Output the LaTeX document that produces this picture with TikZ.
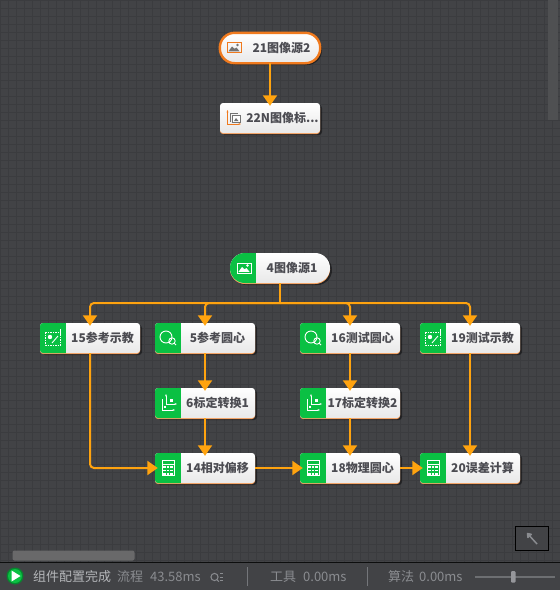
\documentclass[tikz,border=0pt]{standalone}
\usepackage{fontspec}
\setmainfont{Noto Sans CJK SC}
\usetikzlibrary{arrows.meta,calc,shapes.geometric}
\definecolor{bgc}{HTML}{424346}
\definecolor{gridc}{HTML}{3B3C3F}
\definecolor{barc}{HTML}{424346}
\definecolor{flowc}{HTML}{FFA30F}
\definecolor{greenc}{HTML}{0AC043}
\definecolor{iconor}{HTML}{F07A1E}
\definecolor{txtc}{HTML}{4C4C52}
\definecolor{stc}{HTML}{8A8C90}
\definecolor{stb}{HTML}{B4B6B9}
\tikzset{
  x=1pt,y=-1pt,
  wfbase/.style={minimum width=100pt,minimum height=30pt,inner sep=0pt,top color=white,bottom color=black!9,
     text=txtc,font=\fontsize{12}{12}\selectfont\bfseries},
  wfrect/.style={wfbase,rectangle,rounded corners=3pt},
  wfpill/.style={wfbase,rectangle,rounded corners=14.9pt},
  greenpart/.style={path picture={\fill[greenc,sharp corners] ([xshift=-1pt,yshift=1pt]path picture bounding box.north west) rectangle ++(27,32);}},
  flow/.style={draw=flowc,line width=2pt,rounded corners=4pt,shorten >=-3pt,
     -{Triangle[width=14pt,length=10.5pt]}},
  trunk/.style={draw=flowc,line width=2pt},
  ico/.style={white,line width=.9pt},
  icoo/.style={iconor,line width=.9pt},
  st/.style={text=stc,font=\fontsize{13}{13}\selectfont,inner sep=0pt,anchor=west},
}
% #1 name, #2 centre x, #3 centre y, #4 text, #5 style, #6 corner radius
\newcommand{\wfnode}[6]{%
  \fill[black,opacity=.45,rounded corners=#6] (#2-48,#3-13) rectangle (#2+52,#3+17);
  \fill[iconor!75!white,rounded corners=#6] (#2-50,#3-13) rectangle (#2+50,#3+16);
  \node[#5] (#1) at (#2,#3) {\hspace*{25pt}#4};
}
\newcommand{\icoimg}[4]{% x y frame style, fill colour
  \draw[#3] (#1-7,#2-5) rectangle (#1+7,#2+5);
  \fill[#4] (#1-5.5,#2+3.8) -- (#1-2,#2-1) -- (#1+0.5,#2+1.2) -- (#1+2.5,#2) -- (#1+5.5,#2+3.8) -- cycle;
  \fill[#4] (#1+3.5,#2-2.5) circle (1.3);
}
\newcommand{\icoteach}[2]{%
  \draw[ico,dash pattern=on 1.5pt off 1pt] (#1-7.5,#2-6) rectangle (#1+7.5,#2+7);
  \fill[white] (#1-3,#2-1) circle (2.2);
  \draw[ico] (#1-1,#2+5) -- (#1+5,#2-2);
  \draw[ico] (#1+7,#2-9) -- (#1+7,#2-4);
}
\newcommand{\icocirc}[2]{%
  \draw[ico] (#1-2,#2-1) circle (6);
  \draw[ico] (#1+4,#2+3) circle (3.2);
  \draw[ico] (#1+6.3,#2+5.3) -- (#1+8,#2+7);
}
\newcommand{\icoaxes}[2]{%
  \draw[ico,-{Stealth[length=2.5pt]}] (#1-6,#2-4) -- (#1-6,#2+7) -- (#1+7,#2+7);
  \draw[ico,-{Stealth[length=2.5pt]}] (#1-2,#2+1) -- (#1-2,#2-9);
  \draw[ico,-{Stealth[length=2.5pt]}] (#1-2,#2+1) -- (#1+9,#2+1);
  \fill[white] (#1-4.5,#2+3) rectangle ++(2,2);
  \fill[white] (#1+2,#2-4) rectangle ++(2.5,2.5);
}
\newcommand{\icocalc}[2]{%
  \draw[ico] (#1-6,#2-7.5) rectangle (#1+6,#2+7.5);
  \draw[ico] (#1-6,#2-3.5) -- (#1+6,#2-3.5);
  \foreach \k in {0,3.5,7}{\draw[white,line width=1.6pt,dash pattern=on 2.6pt off 1pt] (#1-5,#2-1+\k) -- (#1+5.5,#2-1+\k);}
}
\begin{document}
\begin{tikzpicture}
\useasboundingbox (0,0) rectangle (560,590);
\clip (0,0) rectangle (560,590);
\fill[bgc] (0,0) rectangle (560,590);
\foreach \i in {0,8,...,560}{\draw[gridc,line width=.6pt] (\i,0) -- (\i,562);}
\foreach \i in {0,8,...,560}{\draw[gridc,line width=.6pt] (0,\i) -- (560,\i);}
% scrollbars
\fill[black!10!barc!90!white] (548,0) rectangle (558,120);
\fill[black!5!gray!70!bgc,rounded corners=2pt] (12.5,550.5) rectangle (134.5,560.5);
% corner button
\draw[black,line width=.8pt,fill=bgc] (515.5,526.5) rectangle (548.5,550.5);
\draw[stc,line width=1.5pt,-{Triangle[width=7pt,length=5pt,round]}] (537,544) -- (527,533);
% status bar
\fill[barc] (0,562) rectangle (560,590);
\draw[black!80!barc,line width=1pt] (0,562) -- (560,562);

% nodes
\wfnode{n21}{270}{48}{\hspace*{-2pt}21图像源2}{wfpill}{14.9pt}
\draw[iconor,line width=2.4pt,rounded corners=14.9pt] (n21.north west) rectangle (n21.south east);
\wfnode{n22}{270}{118}{}{wfrect}{3pt}
\node[text=txtc,font=\fontsize{12}{12}\selectfont\bfseries,inner sep=0pt] (t22) at (282.5,118) {22N图像标...};
\wfnode{n4}{280}{268}{\hspace*{-1pt}4图像源1}{wfpill,greenpart}{14.9pt}
\wfnode{n15}{90}{338}{15参考示教}{wfrect,greenpart}{3pt}
\wfnode{n5}{205}{338}{5参考圆心}{wfrect,greenpart}{3pt}
\wfnode{n16}{350}{338}{16测试圆心}{wfrect,greenpart}{3pt}
\wfnode{n19}{470}{338}{19测试示教}{wfrect,greenpart}{3pt}
\wfnode{n6}{205}{403}{6标定转换1}{wfrect,greenpart}{3pt}
\wfnode{n17}{350}{403}{17标定转换2}{wfrect,greenpart}{3pt}
\wfnode{n14}{205}{468}{14相对偏移}{wfrect,greenpart}{3pt}
\wfnode{n18}{350}{468}{18物理圆心}{wfrect,greenpart}{3pt}
\wfnode{n20}{470}{468}{20误差计算}{wfrect,greenpart}{3pt}
% icons
\icoimg{234}{47.5}{iconor,line width=.9pt}{black!55}
% 22: orange axes round stacked gray frames
\draw[icoo,{Stealth[length=2.5pt]}-{Stealth[length=2.5pt]}] (227.5,110) -- (227.5,124) -- (241,124);
\draw[black!55,line width=.8pt] (230.5,113) -- (230.5,122) (230.5,113) -- (238,113);
\draw[black!55,line width=.8pt,fill=white] (232.5,115) rectangle (240,122);
\fill[black!55] (234,121) -- (236,118) -- (238.5,121) -- cycle;
\icoimg{244}{268}{ico}{white}
\icoteach{53}{338}
\icocirc{168}{338}
\icocirc{313}{338}
\icoteach{433}{338}
\icoaxes{168}{403}
\icoaxes{313}{403}
\icocalc{168}{468}
\icocalc{313}{468}
\icocalc{433}{468}

% connectors
\coordinate (split) at (280,303);
\draw[flow] (n21.south) -- (n22.north);
\draw[trunk] (n4.south) -- (split);
\draw[flow] (split) -| (n15.north);
\draw[flow] (split) -| (n5.north);
\draw[flow] (split) -| (n16.north);
\draw[flow] (split) -| (n19.north);
\draw[flow] (n5.south) -- (n6.north);
\draw[flow] (n16.south) -- (n17.north);
\draw[flow] (n6.south) -- (n14.north);
\draw[flow] (n17.south) -- (n18.north);
\draw[flow] (n15.south) |- (n14.west);
\draw[flow] (n14.east) -- (n18.west);
\draw[flow] (n18.east) -- (n20.west);
\draw[flow] (n19.south) -- (n20.north);

% status bar contents
\fill[greenc!70!black] (15,576) circle (8.5);
\fill[greenc] (15,576) circle (7);
\fill[white] (11.5,570.5) -- (20.5,576) -- (11.5,581.5) -- cycle;
\node[st,text=stb] (s1) at (33,577) {组件配置完成};
\node[st] (s2) at (117,577) {流程};
\node[st] (s3) at (150,577) {43.58ms};
\draw[stc,line width=1pt] (214.5,577) circle (3.6);
\draw[stc,line width=1pt] (217,580) -- (219,581.5);
\draw[stc,line width=1pt] (220,573.5) -- (223,573.5) (220,577) -- (223,577) (220,580.5) -- (223,580.5);
\draw[stc!70!barc,line width=.8pt] (247.5,567) -- (247.5,586);
\node[st] (s4) at (270,577) {工具};
\node[st] (s5) at (303,577) {0.00ms};
\draw[stc!70!barc,line width=.8pt] (367.5,567) -- (367.5,586);
\node[st] (s6) at (388,577) {算法};
\node[st] (s7) at (419,577) {0.00ms};
\draw[stc!60!barc,line width=1.5pt] (475,577) -- (555,577);
\fill[stc!90!white,rounded corners=1pt] (511,571) rectangle (515.5,582.5);
\end{tikzpicture}
\end{document}
